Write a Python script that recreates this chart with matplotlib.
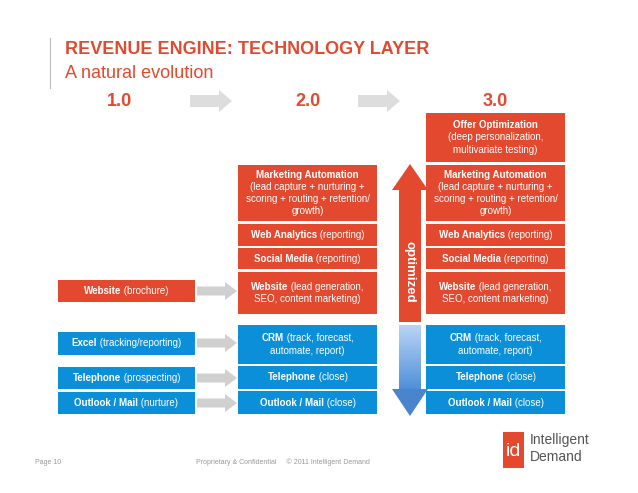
import matplotlib
matplotlib.use("Agg")
import matplotlib.pyplot as plt
from matplotlib.patches import Rectangle, FancyArrow, Polygon
from matplotlib.offsetbox import TextArea, HPacker, VPacker, AnnotationBbox
import numpy as np

plt.rcParams['font.family'] = ['Liberation Sans', 'DejaVu Sans']

RED = '#E2492F'
BLUE = '#0B8FD8'
GRAY = '#D0D0D0'

stages = ['1.0', '2.0', '3.0']
col_x = [(58, 195), (238, 377), (426, 565)]

# (column, y_top, y_bottom, colour, lines[ [ (text, bold), ... ], ... ])
boxes = [
    (0, 280, 302, RED, [[("Website", True), (" (brochure)", False)]]),
    (0, 332, 355, BLUE, [[("Excel", True), (" (tracking/reporting)", False)]]),
    (0, 367, 389, BLUE, [[("Telephone", True), (" (prospecting)", False)]]),
    (0, 392, 414, BLUE, [[("Outlook / Mail", True), (" (nurture)", False)]]),
    (1, 165, 221, RED, [[("Marketing Automation", True)], [("(lead capture + nurturing +", False)],
                        [("scoring + routing + retention/", False)], [("growth)", False)]]),
    (1, 224, 246, RED, [[("Web Analytics", True), (" (reporting)", False)]]),
    (1, 248, 269, RED, [[("Social Media", True), (" (reporting)", False)]]),
    (1, 272, 314, RED, [[("Website", True), (" (lead generation,", False)], [("SEO, content marketing)", False)]]),
    (1, 325, 364, BLUE, [[("CRM", True), (" (track, forecast,", False)], [("automate, report)", False)]]),
    (1, 366, 389, BLUE, [[("Telephone", True), (" (close)", False)]]),
    (1, 391, 414, BLUE, [[("Outlook / Mail", True), (" (close)", False)]]),
    (2, 113, 162, RED, [[("Offer Optimization", True)], [("(deep personalization,", False)],
                        [("multivariate testing)", False)]]),
    (2, 165, 221, RED, [[("Marketing Automation", True)], [("(lead capture + nurturing +", False)],
                        [("scoring + routing + retention/", False)], [("growth)", False)]]),
    (2, 224, 246, RED, [[("Web Analytics", True), (" (reporting)", False)]]),
    (2, 248, 269, RED, [[("Social Media", True), (" (reporting)", False)]]),
    (2, 272, 314, RED, [[("Website", True), (" (lead generation,", False)], [("SEO, content marketing)", False)]]),
    (2, 325, 364, BLUE, [[("CRM", True), (" (track, forecast,", False)], [("automate, report)", False)]]),
    (2, 366, 389, BLUE, [[("Telephone", True), (" (close)", False)]]),
    (2, 391, 414, BLUE, [[("Outlook / Mail", True), (" (close)", False)]]),
]
connector_y = [291, 343, 378, 403]

fig = plt.figure(figsize=(6.38, 4.93), dpi=100)
ax = fig.add_axes([0, 0, 1, 1])
ax.set_xlim(0, 638)
ax.set_ylim(493, 0)
ax.axis('off')

# title
ax.plot([50, 50], [38, 88], color='#BBBBBB', lw=0.8)
ax.text(65, 50, "REVENUE ENGINE: TECHNOLOGY LAYER", color=RED, fontsize=13, weight='bold', va='center')
ax.text(65, 73, "A natural evolution", color=RED, fontsize=13, va='center')

# stage labels and header arrows
label_x = [120, 308, 495]
for s, lx in zip(stages, label_x):
    ax.text(lx, 101, s, color=RED, fontsize=13, weight='bold', ha='center', va='center')
for x0 in (190, 358):
    ax.add_patch(FancyArrow(x0, 101, 42, 0, width=12, head_width=22, head_length=13,
                            length_includes_head=True, color='#DDDDDD', lw=0))

def mixed(lines, fs=7):
    rows = []
    for line in lines:
        parts = [TextArea(t, textprops=dict(color='white', fontsize=fs, weight='bold' if b else 'normal'))
                 for t, b in line]
        rows.append(HPacker(children=parts, align='baseline', pad=0, sep=0))
    return VPacker(children=rows, align='center', pad=0, sep=1.5)

for col, y0, y1, c, lines in boxes:
    x0, x1 = col_x[col]
    ax.add_patch(Rectangle((x0, y0), x1 - x0, y1 - y0, color=c, lw=0))
    ab = AnnotationBbox(mixed(lines), ((x0 + x1) / 2, (y0 + y1) / 2), frameon=False,
                        box_alignment=(0.5, 0.5), pad=0)
    ax.add_artist(ab)

for y in connector_y:
    ax.add_patch(FancyArrow(197, y, 40, 0, width=9, head_width=18, head_length=12,
                            length_includes_head=True, color=GRAY, lw=0))

# vertical optimized arrow
ax.add_patch(Polygon([[399, 322], [399, 190], [392, 190], [410, 164], [428, 190], [421, 190], [421, 322]],
                     closed=True, color=RED, lw=0))
grad_top, grad_bot = 325, 390
n = 40
for i in range(n):
    ya = grad_top + (grad_bot - grad_top) * i / n
    t = i / n
    col = (0.72 * (1 - t) + 0.30 * t, 0.83 * (1 - t) + 0.55 * t, 0.96 * (1 - t) + 0.85 * t)
    ax.add_patch(Rectangle((399, ya), 22, (grad_bot - grad_top) / n + 0.5, color=col, lw=0))
ax.add_patch(Polygon([[392, 389], [428, 389], [410, 416]], closed=True, color='#4A84CC', lw=0))
ax.text(410, 272, "optimized", rotation=-90, color='white', fontsize=9.5, weight='bold',
        ha='center', va='center')

# footer
ax.text(35, 462, "Page 10", color='#999999', fontsize=5, va='center')
ax.text(196, 462, "Proprietary & Confidential     \u00a9 2011 Intelligent Demand", color='#999999',
        fontsize=5, va='center')
ax.add_patch(Rectangle((503, 432), 21, 36, color=RED, lw=0))
ax.text(513.5, 452, "id", color='white', fontsize=14, ha='center', va='center')
ax.text(530, 440, "Intelligent", color='#555555', fontsize=10, va='center')
ax.text(530, 457, "Demand", color='#555555', fontsize=10, va='center')

fig.savefig("out.png", dpi=100)
